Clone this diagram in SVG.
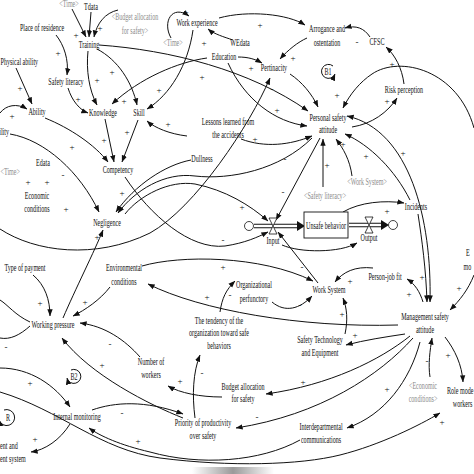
<svg xmlns="http://www.w3.org/2000/svg" width="474" height="474" viewBox="0 0 474 474">
<style>
.t{font-family:"Liberation Serif","Times New Roman",serif;font-size:9.5px;fill:#111;text-anchor:middle}
.st{text-anchor:start}
.en{text-anchor:end}
.g{fill:#8c8c8c}
.s{font-family:"Liberation Serif","Times New Roman",serif;font-size:9px;fill:#111;text-anchor:middle}
.e{fill:none;stroke:#111;stroke-width:1;marker-end:url(#a)}
.n{fill:none;stroke:#111;stroke-width:1}
.b{marker-start:url(#r)}
.pipeo{fill:none;stroke:#111;stroke-width:4.6}
.pipei{fill:none;stroke:#fff;stroke-width:2.6}
.v{fill:#fff;stroke:#111;stroke-width:0.8}
</style>
<defs>
<marker id="a" viewBox="0 0 10 10" refX="9.5" refY="5" markerWidth="7" markerHeight="7" orient="auto" markerUnits="userSpaceOnUse"><path d="M0,1.2 L10,5 L0,8.8 z" fill="#111"/></marker>
<marker id="r" viewBox="0 0 10 10" refX="0.5" refY="5" markerWidth="7" markerHeight="7" orient="auto" markerUnits="userSpaceOnUse"><path d="M10,1.2 L0,5 L10,8.8 z" fill="#111"/></marker>
<linearGradient id="sh" x1="0" x2="1" y1="0" y2="0"><stop offset="0" stop-color="#fff"/><stop offset="0.5" stop-color="#9a9a9a"/><stop offset="1" stop-color="#fff"/></linearGradient>
</defs>
<rect width="474" height="474" fill="#fff"/>
<rect x="192" y="467" width="82" height="7" fill="url(#sh)"/>

<g id="connectors">
<path class="e" d="M72,9 L86,37"/>
<path class="e" d="M91,12 L89,37"/>
<path class="e" d="M118,10 C105,13 97,23 94,37"/>
<path class="e" d="M56,35 C64,45 69,60 67,75"/>
<path class="e" d="M88,51 C86,70 89,90 97,105"/>
<path class="e" d="M97,49 C118,60 132,82 137,105"/>
<path class="e" d="M99,45 C170,50 250,70 308,111"/>
<path class="e" d="M16,68 L32,104"/>
<path class="e" d="M68,88 C72,101 80,110 88,113"/>
<path class="e" d="M0,113 C6,105 17,103 27,109"/>
<path class="e" d="M207,58 C178,62 140,78 112,104"/>
<path class="e" d="M193,30 C188,65 170,95 147,109"/>
<path class="e" d="M45,118 C70,128 95,145 108,162"/>
<path class="e" d="M10,134 C45,140 80,172 99,212"/>
<path class="e" d="M105,119 L114,162"/>
<path class="e" d="M138,120 L122,162"/>
<path class="e" d="M187,136 C170,134 155,128 147,121"/>
<path class="e" d="M241,139 C265,148 290,145 312,136"/>
<path class="e" d="M228,63 C245,100 275,122 307,126"/>
<path class="e" d="M238,57 C248,57 255,59 262,63"/>
<path class="e" d="M290,74 C302,82 312,94 318,107"/>
<path class="e" d="M307,38 C298,42 288,50 280,59"/>
<path class="e" d="M219,18 C248,10 288,14 305,25"/>
<path class="e" d="M171,38 C162,22 172,4 189,16"/>
<path class="e" d="M233,40 C224,37 214,34 208,29"/>
<path class="e" d="M352,127 C372,124 388,112 397,98"/>
<path class="e" d="M404,84 C402,68 395,55 386,47"/>
<path class="e" d="M370,37 C364,28 356,25 345,28"/>
<path class="e" d="M474,128 C458,70 400,55 372,74 C360,82 350,94 343,108"/>
<path class="e" d="M191,160 C165,165 135,185 116,212"/>
<path class="e" d="M312,138 C280,170 230,180 195,176 C165,172 135,190 118,213"/>
<path class="e" d="M125,214 C140,195 170,180 195,184 C225,190 250,205 268,221"/>
<path class="e" d="M125,177 C150,215 190,250 225,246 C245,243 258,237 268,232"/>
<path class="e" d="M320,138 L276,220"/>
<path class="e" d="M318,283 L278,232"/>
<path class="e" d="M282,245 C300,253 340,253 357,243"/>
<path class="e" d="M142,266 C180,255 260,255 313,281"/>
<path class="e" d="M0,229 C35,252 95,260 150,233 C195,208 250,125 270,78"/>
<path class="e" d="M323,187 L323,139"/>
<path class="e" d="M352,176 C350,160 343,148 336,139"/>
<path class="e" d="M410,200 C395,170 370,145 345,134"/>
<path class="e b" d="M430,302 C432,220 410,130 347,116"/>
<path class="e" d="M418,214 C422,240 426,270 427,302"/>
<path class="e" d="M343,212 C360,202 385,200 404,203"/>
<path class="e" d="M373,268 C355,266 343,272 335,282"/>
<path class="e" d="M423,302 C420,292 415,284 407,279"/>
<path class="e" d="M474,275 C468,290 460,300 450,310"/>
<path class="e" d="M445,337 C455,350 462,365 463,382"/>
<path class="e" d="M430,377 C428,365 430,350 432,338"/>
<path class="e" d="M405,334 C385,337 365,340 346,345"/>
<path class="e" d="M345,334 C348,320 347,308 343,298"/>
<path class="e" d="M410,336 C380,360 330,385 266,394"/>
<path class="e" d="M413,338 C380,375 320,415 236,428"/>
<path class="e" d="M420,342 C410,380 385,415 347,428"/>
<path class="e" d="M398,325 C300,328 200,310 148,284"/>
<path class="e" d="M272,302 C285,313 300,309 312,296"/>
<path class="e" d="M220,312 C222,298 226,290 235,281"/>
<path class="e" d="M195,418 C192,395 193,372 200,355"/>
<path class="e" d="M222,397 C200,397 180,393 168,386"/>
<path class="e" d="M140,357 C125,340 105,326 80,323"/>
<path class="e" d="M33,275 C45,285 50,300 50,316"/>
<path class="e" d="M110,287 C100,300 85,310 73,316"/>
<path class="e" d="M63,318 C75,290 95,250 103,230"/>
<path class="e" d="M183,418 C150,405 90,375 62,338"/>
<path class="e" d="M92,410 C115,402 145,400 183,414"/>
<path class="e" d="M300,440 C260,462 200,466 150,452 C120,445 100,436 89,428"/>
<path class="e" d="M0,392 C60,410 100,450 160,458 C230,467 300,465 340,455 C380,445 420,425 440,413"/>
<path class="e" d="M0,368 C30,368 55,385 70,407"/>
<path class="e" d="M70,424 C60,440 45,450 31,452"/>
<path class="n" d="M30,322 C15,315 8,305 0,300"/>
<path class="n" d="M30,326 C20,335 10,340 0,338"/>
<path class="e" d="M333,66 A7,7 0 1 0 335,74"/>
<path class="e" d="M71,370 A7,7 0 1 1 67,378"/>
<path class="e" d="M4,410 A8,8 0 1 1 -1,420"/>
</g>

<g id="flow-input">
<circle cx="249" cy="226" r="4.5" class="v"/>
<path class="pipeo" d="M254,226 L298,226"/>
<path class="pipei" d="M254,226 L298,226"/>
<path d="M297,221 L305,226 L297,231 z" fill="#111"/>
<path class="v" d="M269,218 L277,218 L273,226 z M269,234 L277,234 L273,226 z"/>
<text class="t" transform="translate(273,244) scale(.64,1)">Input</text>
</g>
<g id="flow-output">
<path class="pipeo" d="M349,225 L382,225"/>
<path class="pipei" d="M349,225 L382,225"/>
<path d="M381,220 L389,225 L381,230 z" fill="#111"/>
<circle cx="393" cy="225" r="4.5" class="v"/>
<path class="v" d="M365,217 L373,217 L369,225 z M365,233 L373,233 L369,225 z"/>
<text class="t" transform="translate(369,241) scale(.64,1)">Output</text>
</g>

<g id="loops">
<text class="t" transform="translate(328,75) scale(.64,1)">B1</text>
<text class="t" transform="translate(74,380) scale(.64,1)">B2</text>
<text class="t" transform="translate(8,421) scale(.64,1)">R</text>
</g>

<g id="n-time1"><text class="t g" transform="translate(69,7) scale(.64,1)">&lt;Time&gt;</text></g>
<g id="n-tdata"><text class="t" transform="translate(91,10) scale(.64,1)">Tdata</text></g>
<g id="n-budget-shadow"><text class="t g" transform="translate(135,20) scale(.64,1)"><tspan x="0">&lt;Budget allocation</tspan><tspan x="0" dy="14">for safety&gt;</tspan></text></g>
<g id="n-place"><text class="t" transform="translate(42,31) scale(.64,1)">Place of residence</text></g>
<g id="n-training"><text class="t" transform="translate(89,48) scale(.64,1)">Training</text></g>
<g id="n-physical"><text class="t st" transform="translate(0.5,65) scale(.64,1)">Physical ability</text></g>
<g id="n-workexp"><text class="t" transform="translate(197,26) scale(.64,1)">Work experience</text></g>
<g id="n-time2"><text class="t g" transform="translate(173,46) scale(.64,1)">&lt;Time&gt;</text></g>
<g id="n-wedata"><text class="t" transform="translate(240,46) scale(.64,1)">WEdata</text></g>
<g id="n-education"><text class="t" transform="translate(224,60) scale(.64,1)">Education</text></g>
<g id="n-arrogance"><text class="t" transform="translate(327,32) scale(.64,1)"><tspan x="0">Arrogance and</tspan><tspan x="0" dy="14">ostentation</tspan></text></g>
<g id="n-cfsc"><text class="t" transform="translate(377,45) scale(.64,1)">CFSC</text></g>
<g id="n-pertinacity"><text class="t" transform="translate(274,71) scale(.64,1)">Pertinacity</text></g>
<g id="n-risk"><text class="t" transform="translate(404,93) scale(.64,1)">Risk perception</text></g>
<g id="n-psa"><text class="t" transform="translate(328,121) scale(.64,1)"><tspan x="0">Personal safety</tspan><tspan x="0" dy="12">attitude</tspan></text></g>
<g id="n-safetylit"><text class="t" transform="translate(66,85) scale(.64,1)">Safety literacy</text></g>
<g id="n-ability"><text class="t" transform="translate(37,115) scale(.64,1)">Ability</text></g>
<g id="n-knowledge"><text class="t" transform="translate(103,116) scale(.64,1)">Knowledge</text></g>
<g id="n-skill"><text class="t" transform="translate(139,116) scale(.64,1)">Skill</text></g>
<g id="n-lessons"><text class="t" transform="translate(228,125) scale(.64,1)"><tspan x="0">Lessons learned from</tspan><tspan x="0" dy="13">the accidents</tspan></text></g>
<g id="n-ility"><text class="t en" transform="translate(9,135) scale(.64,1)">ility</text></g>
<g id="n-competency"><text class="t" transform="translate(118,173) scale(.64,1)">Competency</text></g>
<g id="n-dullness"><text class="t" transform="translate(202,162) scale(.64,1)">Dullness</text></g>
<g id="n-time3"><text class="t g st" transform="translate(0.5,175) scale(.64,1)">&lt;Time&gt;</text></g>
<g id="n-edata"><text class="t" transform="translate(43,166) scale(.64,1)">Edata</text></g>
<g id="n-economic"><text class="t" transform="translate(37,199) scale(.64,1)"><tspan x="0">Economic</tspan><tspan x="0" dy="13">conditions</tspan></text></g>
<g id="n-negligence"><text class="t" transform="translate(107,226) scale(.64,1)">Negligence</text></g>
<g id="n-type"><text class="t" transform="translate(25,271) scale(.64,1)">Type of payment</text></g>
<g id="n-environmental"><text class="t" transform="translate(124,271) scale(.64,1)"><tspan x="0">Environmental</tspan><tspan x="0" dy="14">conditions</tspan></text></g>
<g id="n-wp"><text class="t" transform="translate(53,328) scale(.64,1)">Working pressure</text></g>
<g id="n-org"><text class="t" transform="translate(254,288) scale(.64,1)"><tspan x="0">Organizational</tspan><tspan x="0" dy="14">perfunctory</tspan></text></g>
<g id="n-unsafe"><rect x="304" y="212" width="44" height="26" fill="#fff" stroke="#111" stroke-width="0.9"/><text class="t" transform="translate(326,229) scale(.64,1)">Unsafe behavior</text></g>
<g id="n-safetylit-shadow"><text class="t g" transform="translate(325,199) scale(.64,1)">&lt;Safety literacy&gt;</text></g>
<g id="n-worksystem-shadow"><text class="t g" transform="translate(367,185) scale(.64,1)">&lt;Work System&gt;</text></g>
<g id="n-incidents"><text class="t" transform="translate(416,210) scale(.64,1)">Incidents</text></g>
<g id="n-worksystem"><text class="t" transform="translate(329,293) scale(.64,1)">Work System</text></g>
<g id="n-pjf"><text class="t" transform="translate(385,280) scale(.64,1)">Person-job fit</text></g>
<g id="n-ex"><text class="t st" transform="translate(466,256) scale(.64,1)"><tspan x="0">E</tspan><tspan x="-4" dy="14">mo</tspan></text></g>
<g id="n-msa"><text class="t" transform="translate(425,320) scale(.64,1)"><tspan x="0">Management safety</tspan><tspan x="0" dy="13">attitude</tspan></text></g>
<g id="n-ste"><text class="t" transform="translate(320,343) scale(.64,1)"><tspan x="0">Safety Technology</tspan><tspan x="0" dy="13">and Equipment</tspan></text></g>
<g id="n-econ-shadow"><text class="t g" transform="translate(423,389) scale(.64,1)"><tspan x="0">&lt;Economic</tspan><tspan x="0" dy="13">conditions&gt;</tspan></text></g>
<g id="n-role"><text class="t st" transform="translate(447,394) scale(.64,1)"><tspan x="0">Role mode</tspan><tspan x="9" dy="13">workers</tspan></text></g>
<g id="n-tendency"><text class="t" transform="translate(219,324) scale(.64,1)"><tspan x="0">The tendency of the</tspan><tspan x="0" dy="12.5">organization toward safe</tspan><tspan x="0" dy="12.5">behaviors</tspan></text></g>
<g id="n-number"><text class="t" transform="translate(151,365) scale(.64,1)"><tspan x="0">Number of</tspan><tspan x="0" dy="13">workers</tspan></text></g>
<g id="n-budget"><text class="t" transform="translate(243,390) scale(.64,1)"><tspan x="0">Budget allocation</tspan><tspan x="0" dy="12">for safety</tspan></text></g>
<g id="n-priority"><text class="t" transform="translate(203,426) scale(.64,1)"><tspan x="0">Priority of productivity</tspan><tspan x="0" dy="13">over safety</tspan></text></g>
<g id="n-im"><text class="t" transform="translate(77,420) scale(.64,1)">Internal monitoring</text></g>
<g id="n-interdep"><text class="t" transform="translate(321,430) scale(.64,1)"><tspan x="0">Interdepartmental</tspan><tspan x="0" dy="13">communications</tspan></text></g>
<g id="n-ent"><text class="t st" transform="translate(0,449) scale(.64,1)"><tspan x="0">ent and</tspan><tspan x="0" dy="13">ent system</tspan></text></g>

<g id="polarities">
<text class="s" x="100" y="31">+</text><text class="s" x="76" y="38">+</text><text class="s" x="58" y="56">+</text>
<text class="s" x="112" y="75">+</text><text class="s" x="97" y="83">+</text><text class="s" x="20" y="91">+</text>
<text class="s" x="78" y="102">+</text><text class="s" x="124" y="104">+</text><text class="s" x="12" y="119">+</text>
<text class="s" x="72" y="150">+</text><text class="s" x="104" y="143">+</text><text class="s" x="127" y="135">+</text>
<text class="s" x="186" y="15">+</text><text class="s" x="260" y="28">+</text><text class="s" x="204" y="46">+</text>
<text class="s" x="251" y="71">+</text><text class="s" x="293" y="61">+</text><text class="s" x="202" y="80">+</text>
<text class="s" x="159" y="93">+</text><text class="s" x="272" y="92">-</text><text class="s" x="277" y="113">+</text>
<text class="s" x="168" y="127">+</text><text class="s" x="255" y="142">+</text>
<text class="s" x="357" y="45">-</text><text class="s" x="392" y="67">+</text><text class="s" x="337" y="98">+</text>
<text class="s" x="387" y="104">+</text><text class="s" x="343" y="147">+</text><text class="s" x="366" y="159">+</text>
<text class="s" x="403" y="156">+</text>
<text class="s" x="28" y="185">+</text><text class="s" x="47" y="185">+</text><text class="s" x="63" y="178">-</text>
<text class="s" x="66" y="212">+</text><text class="s" x="122" y="196">+</text><text class="s" x="97" y="240">+</text>
<text class="s" x="40" y="306">+</text><text class="s" x="85" y="305">+</text>
<text class="s" x="285" y="162">-</text><text class="s" x="283" y="195">-</text><text class="s" x="242" y="210">+</text>
<text class="s" x="223" y="243">-</text><text class="s" x="223" y="270">+</text><text class="s" x="302" y="270">-</text>
<text class="s" x="207" y="300">+</text><text class="s" x="230" y="298">-</text><text class="s" x="300" y="308">-</text>
<text class="s" x="327" y="168">+</text><text class="s" x="387" y="214">+</text><text class="s" x="350" y="284">+</text>
<text class="s" x="422" y="280">+</text><text class="s" x="409" y="297">+</text><text class="s" x="459" y="291">+</text>
<text class="s" x="6" y="350">-</text><text class="s" x="110" y="347">-</text><text class="s" x="102" y="368">+</text>
<text class="s" x="30" y="386">+</text><text class="s" x="122" y="416">-</text><text class="s" x="35" y="442">+</text>
<text class="s" x="138" y="444">+</text>
<text class="s" x="180" y="384">+</text><text class="s" x="202" y="376">-</text><text class="s" x="303" y="385">+</text>
<text class="s" x="257" y="420">-</text>
<text class="s" x="342" y="317">+</text><text class="s" x="355" y="338">+</text><text class="s" x="387" y="392">+</text>
<text class="s" x="427" y="364">-</text><text class="s" x="448" y="358">+</text><text class="s" x="442" y="425">+</text>
</g>
</svg>
